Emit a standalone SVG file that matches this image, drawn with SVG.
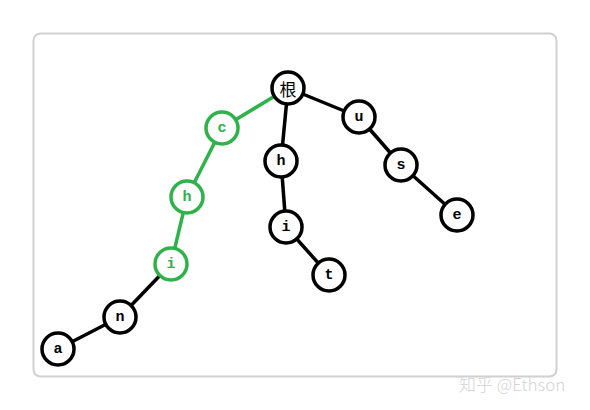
<svg xmlns="http://www.w3.org/2000/svg" width="590" height="410" viewBox="0 0 590 410">
<style>
.edge{stroke:#000;stroke-width:3.5;fill:none}
.edge.g{stroke:#2db34a}
.node circle{fill:#fff;stroke:#000;stroke-width:3.5}
.node.g circle{stroke:#2db34a}
.node text{font-family:"Liberation Mono","Courier New",monospace;font-size:15px;font-weight:bold;text-anchor:middle;dominant-baseline:central;fill:#000}
.node.g text{fill:#2db34a}
.cjk{font-family:"Noto Sans CJK SC",sans-serif!important;font-size:17px!important;font-weight:normal!important}
</style>
<rect x="0" y="0" width="590" height="410" fill="#fff"/>
<rect x="33.5" y="33.5" width="523" height="343" rx="7" fill="#fff" stroke="#d0d0d0" stroke-width="2"/>
<g id="connectors">
<line class="edge g" x1="288" y1="88" x2="222" y2="128"/>
<line class="edge g" x1="222" y1="128" x2="187" y2="197"/>
<line class="edge g" x1="187" y1="197" x2="171" y2="264"/>
<line class="edge" x1="171" y1="264" x2="120" y2="317"/>
<line class="edge" x1="120" y1="317" x2="58" y2="349"/>
<line class="edge" x1="288" y1="88" x2="281" y2="161"/>
<line class="edge" x1="281" y1="161" x2="286" y2="227"/>
<line class="edge" x1="286" y1="227" x2="329" y2="275"/>
<line class="edge" x1="288" y1="88" x2="359" y2="117"/>
<line class="edge" x1="359" y1="117" x2="401" y2="165"/>
<line class="edge" x1="401" y1="165" x2="457" y2="215"/>
</g>
<g id="node-root" class="node"><circle cx="288" cy="88" r="16"/><text class="cjk" x="288" y="88">根</text></g>
<g id="node-c" class="node g"><circle cx="222" cy="128" r="16"/><text x="222" y="128">c</text></g>
<g id="node-h1" class="node g"><circle cx="187" cy="197" r="16"/><text x="187" y="197">h</text></g>
<g id="node-i1" class="node g"><circle cx="171" cy="264" r="16"/><text x="171" y="264">i</text></g>
<g id="node-n" class="node"><circle cx="120" cy="317" r="16"/><text x="120" y="317">n</text></g>
<g id="node-a" class="node"><circle cx="58" cy="349" r="16"/><text x="58" y="349">a</text></g>
<g id="node-h2" class="node"><circle cx="281" cy="161" r="16"/><text x="281" y="161">h</text></g>
<g id="node-i2" class="node"><circle cx="286" cy="227" r="16"/><text x="286" y="227">i</text></g>
<g id="node-t" class="node"><circle cx="329" cy="275" r="16"/><text x="329" y="275">t</text></g>
<g id="node-u" class="node"><circle cx="359" cy="117" r="16"/><text x="359" y="117">u</text></g>
<g id="node-s" class="node"><circle cx="401" cy="165" r="16"/><text x="401" y="165">s</text></g>
<g id="node-e" class="node"><circle cx="457" cy="215" r="16"/><text x="457" y="215">e</text></g>
<text x="459" y="391" font-family="'Noto Sans CJK SC',sans-serif" font-size="17" font-weight="300" fill="#d4d4d4">知乎 @Ethson</text>
</svg>
